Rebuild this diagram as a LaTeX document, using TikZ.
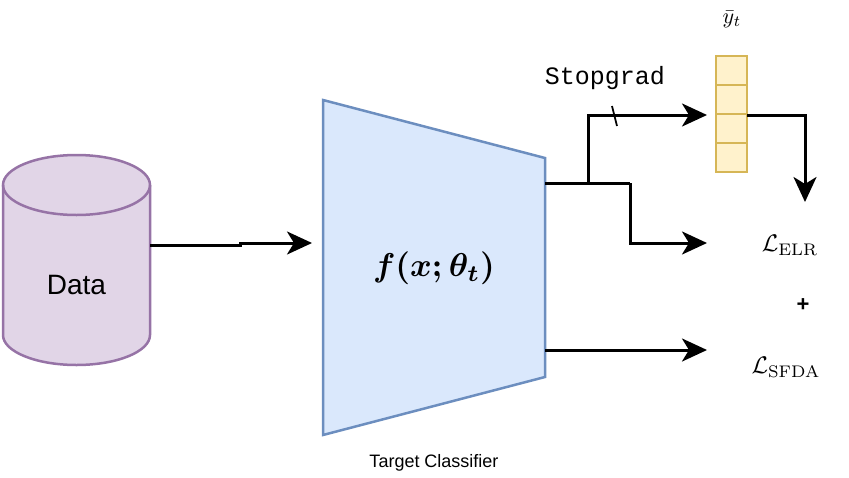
\documentclass[tikz,border=0pt]{standalone}
\usepackage{fix-cm}
\usepackage{amsmath}
\usepackage{graphicx}
\usepackage[no-math]{fontspec}
\setmainfont{Liberation Sans}
\setmonofont{Liberation Mono}
\usetikzlibrary{arrows.meta}
\begin{document}
\begin{tikzpicture}[x=1pt,y=-1pt,
  conn/.style={line width=3pt,-{Stealth[length=25pt,width=23pt,inset=7pt]}},
  line/.style={line width=3pt}]
\useasboundingbox (0,0) rectangle (849,477);
% cylinder
\fill[fill={rgb,255:red,225;green,213;blue,231}] (3,185) -- (3,335) arc[start angle=180,end angle=0,x radius=73.5,y radius=30] -- (150,185) arc[start angle=0,end angle=-180,x radius=73.5,y radius=30] -- cycle;
\draw[line width=2.5pt,draw={rgb,255:red,150;green,115;blue,166}] (3,185) -- (3,335) arc[start angle=180,end angle=0,x radius=73.5,y radius=30] -- (150,185);
\draw[line width=2.5pt,draw={rgb,255:red,150;green,115;blue,166}] (76.5,185) ellipse[x radius=73.5,y radius=30];
\node (data) at (76.5,285) {\fontsize{28}{30}\selectfont Data};
\coordinate (dataR) at (150,245);
% trapezoid
\draw[line width=2.5pt,draw={rgb,255:red,108;green,142;blue,191},fill={rgb,255:red,218;green,232;blue,252}] (323,100) -- (545,158) -- (545,377) -- (323,435) -- cycle;
\node (f) at (434,268) {\scalebox{3.3}{$\boldsymbol{f(x;\theta_t)}$}};
\node (tc) at (434,463) {\fontsize{18}{20}\selectfont Target Classifier};
\coordinate (fin) at (312,243);
\coordinate (fo1) at (545,183);
\coordinate (fo2) at (545,350);
\draw[conn] (dataR) -- (240,245) -- (240,243) -- (fin);
% vector
\foreach \i in {0,1,2,3}{
 \draw[line width=2.5pt,draw={rgb,255:red,214;green,182;blue,86},fill={rgb,255:red,255;green,242;blue,204}] (716,{56+29*\i}) rectangle (747,{56+29*(\i+1)});}
\coordinate (vecL) at (707,115);
\coordinate (vecR) at (747,115);
\node (ybar) at (732,19) {\scalebox{2.2}{$\bar{y}_t$}};
\node (sg) at (605,78) {\fontsize{25}{27}\selectfont\ttfamily Stopgrad};
% labels
\node (elr) at (790,245) {\scalebox{2.4}{$\mathcal{L}_{\mathrm{ELR}}$}};
\node (plus) at (803,305) {\fontsize{22}{24}\selectfont\bfseries +};
\node (sfda) at (786,367) {\scalebox{2.4}{$\mathcal{L}_{\mathrm{SFDA}}$}};
\coordinate (elrIn) at (707,243);
\coordinate (sfdaIn) at (707,350);
\coordinate (vdown) at (805,202);
% connectors
\draw[line] (fo1) -- (630,183);
\draw[conn] (630,183) -- (630,243) -- (elrIn);
\draw[conn] (588,183) -- (588,115) -- (vecL);
\draw[line width=1.8pt] (612,106) -- (617,126);
\draw[conn] (vecR) -- (805,115) -- (vdown);
\draw[conn] (fo2) -- (sfdaIn);
\end{tikzpicture}
\end{document}
